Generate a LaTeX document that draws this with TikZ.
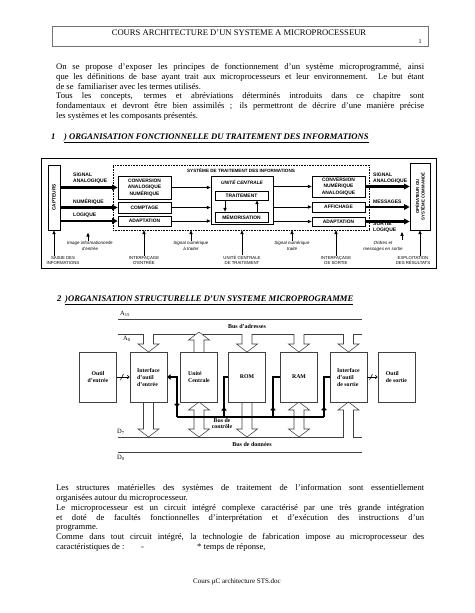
\documentclass[tikz,border=0pt]{standalone}
\usepackage{fontspec}
\setmainfont{Liberation Serif}
\newfontfamily\dsf{Liberation Sans}
\usetikzlibrary{arrows.meta,decorations.markings,calc}
\newcommand\JL[1]{\makebox[368pt][s]{#1}}
\newcommand\HArrDownOpen[3]{%
  \fill[white] (#1-4.6,#2-0.8) rectangle (#1+4.6,#2+0.8);
  \draw[busl] (#1-5,#2) -- (#1-5,#3-8) -- (#1-10.5,#3-8) -- (#1,#3) -- (#1+10.5,#3-8) -- (#1+5,#3-8) -- (#1+5,#2);}
\newcommand\HArrUpOpen[3]{%
  \fill[white] (#1-4.6,#2-0.8) rectangle (#1+4.6,#2+0.8);
  \draw[busl] (#1-5,#2) -- (#1-5,#3+8) -- (#1-10.5,#3+8) -- (#1,#3) -- (#1+10.5,#3+8) -- (#1+5,#3+8) -- (#1+5,#2);}
\newcommand\HArrUpBox[3]{%
  \draw[busl,fill=white] (#1-5,#2) -- (#1-5,#3+8) -- (#1-10.5,#3+8) -- (#1,#3) -- (#1+10.5,#3+8) -- (#1+5,#3+8) -- (#1+5,#2);}
\newcommand\HArrDownBox[3]{%
  \draw[busl,fill=white] (#1-5,#2) -- (#1-5,#3-8) -- (#1-10.5,#3-8) -- (#1,#3) -- (#1+10.5,#3-8) -- (#1+5,#3-8) -- (#1+5,#2);}
\newcommand\HArrBoth[3]{%
  \draw[busl,fill=white] (#1,#2) -- (#1+10.5,#2+8) -- (#1+5,#2+8) -- (#1+5,#3-8) -- (#1+10.5,#3-8) -- (#1,#3) -- (#1-10.5,#3-8) -- (#1-5,#3-8) -- (#1-5,#2+8) -- (#1-10.5,#2+8) -- cycle;}
\begin{document}
\begin{tikzpicture}[x=1pt,y=-1pt,
  bodyl/.style={anchor=base west, inner sep=0, font=\fontsize{8.6}{10}\selectfont},
  headl/.style={anchor=base west, inner sep=0, font=\fontsize{8.6}{10}\selectfont\bfseries\itshape},
  d1box/.style={draw, line width=0.7, inner sep=0, font=\dsf\bfseries\fontsize{4.9}{6.6}\selectfont, align=center},
  d1t/.style={inner sep=0, font=\dsf\bfseries\fontsize{4.6}{6}\selectfont, align=center},
  d1l/.style={anchor=west, inner sep=0, font=\dsf\bfseries\fontsize{5}{6}\selectfont, align=left},
  d1b/.style={inner sep=0.5, font=\dsf\fontsize{4.3}{5.2}\selectfont, align=center},
  d1i/.style={inner sep=0.5, font=\dsf\itshape\fontsize{4.5}{5.8}\selectfont, align=center},
  thickarr/.style={line width=2.3, -{Triangle[length=5.5pt,width=5.5pt]}},
  thinarr/.style={line width=0.7, -{Triangle[length=3.8pt,width=3.2pt]}},
  uparr/.style={line width=0.7, -{Triangle[length=3.8pt,width=3.2pt]}},
  busl/.style={draw=black!75, line width=0.55},
  d2box/.style={draw=black!75, line width=0.6, minimum width=37, minimum height=50, inner sep=0, font=\bfseries\fontsize{5.8}{7}\selectfont, align=left},
  d2l/.style={inner sep=0, font=\bfseries\fontsize{6}{6.5}\selectfont},
  ctl/.style={line width=1.1, black},
  barb/.style={postaction={decorate}, decoration={markings, mark=at position #1 with {\arrow{Straight Barb[length=2.5pt,width=4.5pt]}}}}
]
\useasboundingbox (0,0) rectangle (474,613);
\fill[white] (0,0) rectangle (474,613);

% ---------- header ----------
\node[draw=black!55, line width=0.8, minimum width=376, minimum height=20, inner sep=0] (hdr) at (240,36) {};
\node[inner sep=0, font=\fontsize{8.6}{10}\selectfont] (title) at (239,33) {COURS ARCHITECTURE D’UN SYSTEME A MICROPROCESSEUR};
\node[inner sep=0, font=\fontsize{6}{7}\selectfont] (pnum) at (420,42) {1};

% ---------- paragraph 1 ----------
\node[bodyl] (p1) at (56,69.5) {\JL{On se\ propose d’exposer les principes de fonctionnement d'un système microprogrammé, ainsi}};
\node[bodyl] (p2) at (56,79.3) {\JL{que les définitions de base ayant trait aux microprocesseurs et leur environnement. Le but étant}};
\node[bodyl] (p3) at (56,89.1) {de se\ \ familiariser avec les termes utilisés.};
\node[bodyl] (p4) at (56,98.9) {\JL{Tous les concepts, termes et abréviations déterminés introduits dans ce chapitre sont}};
\node[bodyl] (p5) at (56,108.7) {\JL{fondamentaux et devront être bien assimilés ; ils permettront de décrire d’une manière précise}};
\node[bodyl] (p6) at (56,118.5) {les systèmes et les composants présentés.};

% ---------- heading 1 ----------
\node[headl] (h1n) at (51,139) {1};
\node[headl] (h1) at (64,139) {\underline{) ORGANISATION FONCTIONNELLE DU TRAITEMENT DES INFORMATIONS}};

% ---------- diagram 1 ----------
\node[draw, line width=0.9, minimum width=395, minimum height=110, inner sep=0] (frame1) at (238.5,213) {};
\node[d1box, minimum width=12, minimum height=65] (capt) at (54,197.5) {};
\node[d1t, rotate=90, font=\dsf\bfseries\fontsize{4.8}{6}\selectfont] (captt) at (capt) {CAPTEURS};
\node[draw, densely dotted, line width=0.6, minimum width=256, minimum height=65, inner sep=0] (sys) at (241,197.5) {};
\node[d1t] (systt) at (241,170.5) {SYSTÈME DE TRAITEMENT DES INFORMATIONS};

\node[d1box, minimum width=53, minimum height=23] (cana) at (144.5,187.5) {CONVERSION\\ANALOGIQUE\\NUMÉRIQUE};
\node[d1box, minimum width=53, minimum height=11] (comp) at (144.5,207.5) {COMPTAGE};
\node[d1box, minimum width=53, minimum height=10] (adin) at (144.5,221) {ADAPTATION};

\node[d1box, minimum width=62, minimum height=48] (uc) at (242,200) {};
\node[d1t, font=\dsf\bfseries\itshape\fontsize{4.8}{6}\selectfont] (uct) at (242,182.5) {UNITÉ CENTRALE};
\node[d1box, minimum width=53, minimum height=9] (trait) at (241.5,195.5) {TRAITEMENT};
\node[d1box, minimum width=53, minimum height=10] (memo) at (241.5,217) {MÉMORISATION};
\draw[thinarr] ([xshift=-16.5pt]trait.south) -- ([xshift=-16.5pt]memo.north);
\draw[thinarr] ([xshift=15.5pt]memo.north) -- ([xshift=15.5pt]trait.south);

\node[d1box, minimum width=53, minimum height=21] (cnan) at (338.5,186.5) {CONVERSION\\NUMÉRIQUE\\ANALOGIQUE};
\node[d1box, minimum width=53, minimum height=10] (aff) at (338.5,207) {AFFICHAGE};
\node[d1box, minimum width=53, minimum height=9] (adout) at (338.5,221.5) {ADAPTATION};

\node[d1box, minimum width=20, minimum height=67] (op) at (420,196.5) {};
\node[d1t, rotate=90, font=\dsf\bfseries\fontsize{4.3}{5.6}\selectfont] (opt) at (op) {OPÉRATEUR OU\\SYSTÈME COMMANDÉ};

\draw[thickarr] (capt.east |- cana.west) -- (cana.west);
\draw[thickarr] (capt.east |- comp.west) -- (comp.west);
\draw[thickarr] (capt.east |- adin.west) -- (adin.west);
\draw[thinarr] (cana.east) -- (cana.east -| uc.west);
\draw[thinarr] (comp.east) -- (comp.east -| uc.west);
\draw[thinarr] (adin.east) -- (adin.east -| uc.west);
\draw[thinarr] (uc.east |- cnan.west) -- (cnan.west);
\draw[thinarr] (uc.east |- aff.west) -- (aff.west);
\draw[thinarr] (uc.east |- adout.west) -- (adout.west);
\draw[thickarr] (cnan.east) -- (cnan.east -| op.west);
\draw[thickarr] (aff.east) -- (aff.east -| op.west);
\draw[thickarr] (adout.east) -- (adout.east -| op.west);

\node[d1l] (sigl) at (73,178) {SIGNAL\\ANALOGIQUE};
\node[d1l] (numl) at (73,202) {NUMÉRIQUE};
\node[d1l] (logl) at (73,215) {LOGIQUE};
\node[d1l] (sigr) at (373,178) {SIGNAL\\ANALOGIQUE};
\node[d1l] (mesr) at (373,202) {MESSAGES};
\node[d1l] (sorr) at (373,227) {SORTIE\\LOGIQUE};

\node[d1b] (saisie) at (63,260.5) {SAISIE DES\\INFORMATIONS};
\node[d1b] (ient) at (144,260.5) {INTERFAÇAGE\\D’ENTRÉE};
\node[d1b] (uctr) at (242,260.5) {UNITÉ CENTRALE\\DE TRAITEMENT};
\node[d1b] (isort) at (336,260.5) {INTERFAÇAGE\\DE SORTIE};
\node[d1b] (expl) at (413,260.5) {EXPLOITATION\\DES RÉSULTATS};

\node[d1i] (imgl) at (90,246) {Image informationnelle\\d’entrée};
\node[d1i] (snat) at (191,246) {Signal numérique\\à traiter};
\node[d1i] (snt) at (292,246) {Signal numérique\\traité};
\node[d1i] (ords) at (383,246) {Ordres et\\messages en sortie};
\coordinate (ordsa) at (402,240);

\draw[uparr] (capt.south |- saisie.north) -- (capt.south);
\draw[uparr] (ient.north) -- (ient.north |- sys.south);
\draw[uparr] (uctr.north) -- (uctr.north |- sys.south);
\draw[uparr] (isort.north) -- (isort.north |- sys.south);
\draw[uparr] (op.south |- expl.north) -- (op.south);
\draw[uparr] ([xshift=-2pt]imgl.north) -- ++(0,-8);
\draw[uparr] (snat.north) -- (snat.north |- sys.south);
\draw[uparr] (snt.north) -- (snt.north |- sys.south);
\draw[uparr] (ordsa) -- ++(0,-8);

% ---------- heading 2 ----------
\node[headl] (h2n) at (57,301) {2};
\node[headl] (h2) at (65,301) {\underline{)ORGANISATION STRUCTURELLE D’UN SYSTEME MICROPROGRAMME}};

% ---------- diagram 2 ----------
\draw[busl] (118,319) -- (362,319);
\draw[busl] (118,334) -- (362,334);
\draw[busl] (118,437) -- (362,437);
\draw[busl] (118,452) -- (362,452);

\HArrDownOpen{148.5}{334}{352}
\HArrUpBox{199}{352}{332}
\HArrDownOpen{247}{334}{352}
\HArrDownOpen{299}{334}{352}
\HArrDownOpen{348.5}{334}{352}

\HArrDownBox{148.5}{402}{437}
\HArrBoth{199}{402}{437}
\HArrDownBox{247}{402}{437}
\HArrBoth{299}{402}{437}
\HArrUpOpen{348.5}{437}{402}

\node[d2box, align=center] (oin) at (98,377) {Outil\\d’entrée};
\node[d2box] (ifin) at (148.5,377) {Interface\\d’outil\\d’entrée};
\node[d2box] (ucb) at (199,377) {Unité\\Centrale};
\node[d2box] (rom) at (247,377) {ROM};
\node[d2box] (ram) at (299,377) {RAM};
\node[d2box] (ifout) at (348.5,377) {Interface\\d’outil\\de sortie};
\node[d2box] (oout) at (396.5,377) {Outil\\de sortie};

\draw[line width=0.6, -{Straight Barb[length=2pt,width=3.5pt]}] (oin.east) -- (ifin.west);
\draw[line width=0.5] (120.5,380) -- (123.5,374);
\draw[line width=0.6, -{Straight Barb[length=2pt,width=3.5pt]}] (ifout.east) -- (oout.west);
\draw[line width=0.5] (369.5,380) -- (372.5,374);

\coordinate (cb1) at (177,417);
\coordinate (cb2) at (224,417);
\coordinate (cb3) at (273,417);
\coordinate (cb4) at (324,417);
\draw[ctl] (cb1) -- (cb4);
\draw[ctl, {Straight Barb[length=2.5pt,width=4.5pt]}-, barb=0.8] (ifin.east) -- (cb1 |- ifin.east) -- (cb1);
\draw[ctl, barb=0.22] (cb2) -- (cb2 |- rom.west) -- (rom.west);
\draw[ctl, barb=0.21] (cb3) -- (cb3 |- ram.west) -- (ram.west);
\draw[ctl, barb=0.22] (cb4) -- (cb4 |- ifout.west) -- (ifout.west);

\node[d2l] (abus) at (247,326) {Bus d’adresses};
\node[d2l] (dbus) at (252,444.5) {Bus de données};
\node[d2l, align=center, font=\bfseries\fontsize{5.8}{6}\selectfont] (cbus) at (222,424) {Bus de\\contrôle};
\node[d2l, anchor=west, font=\fontsize{6.5}{7}\selectfont] (a15) at (120,313.5) {A\textsubscript{15}};
\node[d2l, anchor=west, font=\fontsize{6.5}{7}\selectfont] (a0) at (123,338.5) {A\textsubscript{0}};
\node[d2l, anchor=west, font=\fontsize{6.5}{7}\selectfont] (d7) at (117,431.5) {D\textsubscript{7}};
\node[d2l, anchor=west, font=\fontsize{6.5}{7}\selectfont] (d0) at (117,457.5) {D\textsubscript{0}};

% ---------- paragraph 2 ----------
\node[bodyl] (q1) at (56,490.7) {\JL{Les structures matérielles des systèmes de traitement de l’information sont essentiellement}};
\node[bodyl] (q2) at (56,500.5) {organisées autour du microprocesseur.};
\node[bodyl] (q3) at (56,510.3) {\JL{Le microprocesseur est un circuit intégré complexe caractérisé par une très grande intégration}};
\node[bodyl] (q4) at (56,520.1) {\JL{et doté de facultés fonctionnelles d’interprétation et d’exécution des instructions d’un}};
\node[bodyl] (q5) at (56,529.9) {programme.};
\node[bodyl] (q6) at (56,539.7) {\JL{Comme dans tout circuit intégré, la technologie de fabrication impose au microprocesseur des}};
\node[bodyl] (q7) at (56,549.5) {caractéristiques de :};
\node[bodyl] (q7b) at (141,549.5) {-};
\node[bodyl] (q7c) at (197,549.5) {* temps de réponse,};

% ---------- footer ----------
\node[inner sep=0, font=\fontsize{7}{8}\selectfont] (foot) at (237,582) {Cours µC architecture STS.doc};
\end{tikzpicture}
\end{document}
